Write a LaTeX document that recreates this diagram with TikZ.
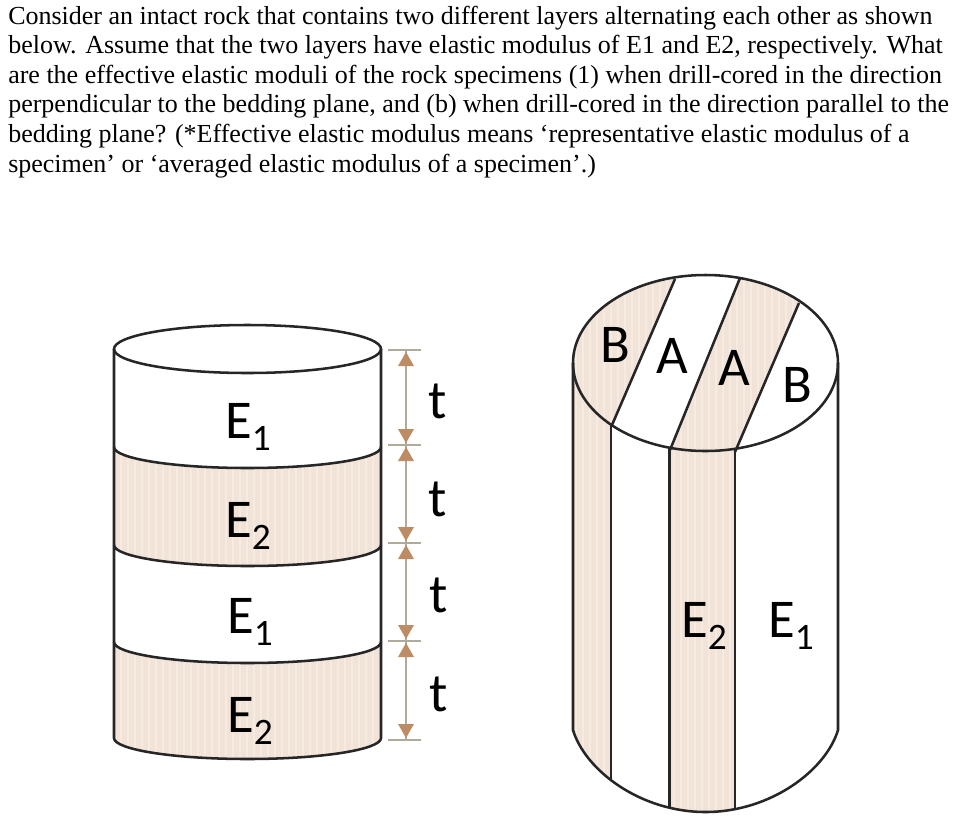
\documentclass[tikz,border=0pt]{standalone}
\usepackage{fontspec}
\setmainfont{Liberation Serif}
\newfontfamily\labelfont{Carlito}
\definecolor{bandfill}{RGB}{241,227,216}
\definecolor{bandstripe}{RGB}{246,235,225}
\definecolor{tickgray}{RGB}{175,170,155}
\definecolor{arrowtan}{RGB}{190,140,100}
\newcommand{\layerlabel}[1]{E\raisebox{-9.5pt}{\fontsize{28}{28}\selectfont #1}}
\tikzset{
  para/.style={anchor=base west,inner sep=0pt,font=\fontsize{19.5}{19.5}\selectfont},
  biglabel/.style={anchor=base west,inner sep=0pt,font=\labelfont\fontsize{41}{41}\selectfont},
  toplabel/.style={anchor=base,inner sep=0pt,font=\labelfont\fontsize{41}{41}\selectfont},
  outline/.style={draw=black!85,line width=1.9pt},
  tick/.style={draw=tickgray,line width=1.5pt},
  dim/.style={draw=tickgray,line width=2.2pt},
  tip/.style={fill=arrowtan},
  band/.style={fill=bandfill,path picture={
    \foreach \xx in {100,107,...,850}
      \draw[bandstripe,line width=1.5pt] (\xx,260) -- (\xx,820);
  }}
}
\begin{document}
\begin{tikzpicture}[x=0.75pt,y=-0.75pt]
  \useasboundingbox (0,0) rectangle (954,819);
  % text
  \node[para] (L1) at (8,24) {Consider an intact rock that contains two different layers alternating each other as shown};
  \node[para] (L2) at (8,53) {below. Assume that the two layers have elastic modulus of E1 and E2, respectively. What};
  \node[para] (L3) at (8,83) {are the effective elastic moduli of the rock specimens (1) when drill-cored in the direction};
  \node[para] (L4) at (8,112) {perpendicular to the bedding plane, and (b) when drill-cored in the direction parallel to the};
  \node[para] (L5) at (8,142) {bedding plane? (*Effective elastic modulus means `representative elastic modulus of a};
  \node[para] (L6) at (8,172) {specimen' or `averaged elastic modulus of a specimen'.)};

  % left cylinder
  \path[band] (114,447) arc[start angle=180,end angle=0,x radius=133.5,y radius=21] -- (381,545) arc[start angle=0,end angle=180,x radius=133.5,y radius=21] -- cycle;
  \path[band] (114,642) arc[start angle=180,end angle=0,x radius=133.5,y radius=21] -- (381,738) arc[start angle=0,end angle=180,x radius=133.5,y radius=21] -- cycle;
  \draw[outline] (247.5,349) ellipse[x radius=133.5,y radius=24];
  \draw[outline] (114,349) -- (114,738) arc[start angle=180,end angle=0,x radius=133.5,y radius=21] -- (381,349);
  \foreach \yy in {447,545,642}
    \draw[outline] (114,\yy) arc[start angle=180,end angle=0,x radius=133.5,y radius=21];

  % t marks
  \foreach \yy in {350,445,543,641,740}
    \draw[tick] (388,\yy) -- (421,\yy);
  \draw[dim] (406,350) -- (406,740);
  \foreach \ya/\yb in {350/445,445/543,543/641,641/740}{
    \fill[tip] (406,\ya+2) -- (398,\ya+16) -- (414,\ya+16) -- cycle;
    \fill[tip] (406,\yb-2) -- (398,\yb-16) -- (414,\yb-16) -- cycle;
  }
  \node[biglabel] (T1) at (428,418) {t};
  \node[biglabel] (T2) at (428,516) {t};
  \node[biglabel] (T3) at (429,612) {t};
  \node[biglabel] (T4) at (429,711) {t};
  \node[biglabel] (EA) at (225,438) {\layerlabel{1}};
  \node[biglabel] (EB) at (225,537) {\layerlabel{2}};
  \node[biglabel] (EC) at (227,633) {\layerlabel{1}};
  \node[biglabel] (ED) at (227,732) {\layerlabel{2}};

  % right cylinder
  \begin{scope}
    \clip (573,363) -- (573,730) .. controls (585,770) and (640,812) .. (705.5,812)
      .. controls (771,812) and (826,770) .. (838,730) -- (838,363)
      arc[start angle=0,end angle=-180,x radius=132.5,y radius=88] -- cycle;
    \path[band] (573,260) rectangle (611,815);
    \path[band] (669.5,260) rectangle (735,815);
    \draw[outline] (611,425) -- (611,815);
    \draw[outline] (669.5,448) -- (669.5,815);
    \draw[outline] (735,449) -- (735,815);
  \end{scope}
  \fill[white] (705.5,363) ellipse[x radius=132.5,y radius=88];
  \begin{scope}
    \clip (705.5,363) ellipse[x radius=132.5,y radius=88];
    \path[band] (675,279) -- (612,425) -- (560,425) -- (560,270) -- (675,270) -- cycle;
    \path[band] (740,278) -- (670,450) -- (735,452) -- (799,303) -- (799,270) -- (740,270) -- cycle;
  \end{scope}
  \draw[outline] (705.5,363) ellipse[x radius=132.5,y radius=88];
  \draw[outline] (675,279) -- (612,425);
  \draw[outline] (740,278) -- (670,450);
  \draw[outline] (799,303) -- (735,452);
  \draw[outline] (573,363) -- (573,730) .. controls (585,770) and (640,812) .. (705.5,812)
      .. controls (771,812) and (826,770) .. (838,730) -- (838,363);
  \node[toplabel] (BA) at (615.5,362) {B};
  \node[toplabel] (AA) at (672.5,373) {A};
  \node[toplabel] (AB) at (734.5,385) {A};
  \node[toplabel] (BB) at (797.5,402) {B};
  \node[biglabel] (EE) at (681,637) {\layerlabel{2}};
  \node[biglabel] (EF) at (768,637) {\layerlabel{1}};
\end{tikzpicture}
\end{document}
